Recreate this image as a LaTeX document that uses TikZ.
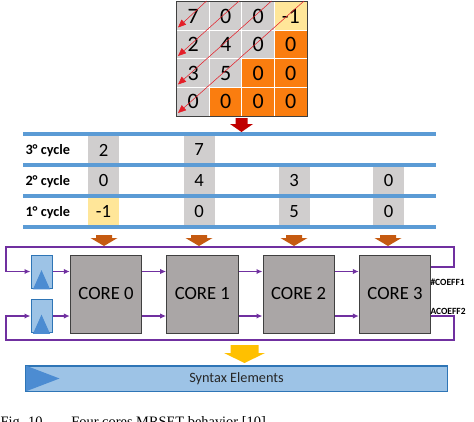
\documentclass[tikz,border=0pt]{standalone}
\usepackage{fontspec}
\setmainfont{Carlito}
\newfontfamily\capfont{Liberation Serif}
\usetikzlibrary{positioning,arrows.meta}

\definecolor{cellgray}{RGB}{208,206,206}
\definecolor{cellyellow}{RGB}{255,230,153}
\definecolor{cellorange}{RGB}{250,125,15}
\definecolor{diagred}{RGB}{228,30,40}
\definecolor{arrowred}{RGB}{192,0,0}
\definecolor{rulebl}{RGB}{91,155,213}
\definecolor{arroworange}{RGB}{197,90,17}
\definecolor{coregray}{RGB}{170,166,166}
\definecolor{coreedge}{RGB}{64,64,64}
\definecolor{purp}{RGB}{112,48,160}
\definecolor{reglight}{RGB}{157,195,230}
\definecolor{regedge}{RGB}{46,117,182}
\definecolor{regtri}{RGB}{76,140,210}
\definecolor{gold}{RGB}{255,192,0}

\tikzset{every picture/.style={line width=0.75pt}}

\begin{document}
\begin{tikzpicture}[x=0.75pt,y=0.75pt,yscale=-1,xscale=1,
  cell/.style={draw=white,line width=0.75pt,minimum width=24.4pt,minimum height=21.4pt,inner sep=0pt,font=\fontsize{16.5}{18}\selectfont},
  slot/.style={fill=cellgray,minimum width=23.25pt,minimum height=22pt,inner sep=0pt,font=\fontsize{14}{16}\selectfont},
  cyc/.style={anchor=west,inner sep=0pt,font=\bfseries\fontsize{10.7}{12}\selectfont},
  core/.style={draw=coreedge,fill=coregray,minimum width=53.5pt,minimum height=58.5pt,inner sep=0pt,font=\fontsize{14}{16}\selectfont},
  reg/.style={draw=regedge,fill=reglight,minimum width=15.75pt,minimum height=24.75pt,inner sep=0pt},
  coeff/.style={anchor=west,inner sep=0pt,font=\bfseries\fontsize{7.1}{8}\selectfont},
  diag/.style={color=diagred,line width=0.4pt,-{Triangle[length=6pt,width=5pt]}},
  rule/.style={color=rulebl,line width=2.6pt},
  pline/.style={color=purp,line width=1.1pt,-{Latex[length=4.5pt,width=4pt]}},
]
\useasboundingbox (0,0) rectangle (474,421);

% Matrix
\foreach \r/\c/\v/\f in {1/1/7/cellgray,1/2/0/cellgray,1/3/0/cellgray,1/4/-1/cellyellow,
  2/1/2/cellgray,2/2/4/cellgray,2/3/0/cellgray,2/4/0/cellorange,
  3/1/3/cellgray,3/2/5/cellgray,3/3/0/cellorange,3/4/0/cellorange,
  4/1/0/cellgray,4/2/0/cellorange,4/3/0/cellorange,4/4/0/cellorange}
  \node[cell,fill=\f] (m-\r-\c) at ({177+32.5*(\c-0.5)},{2+28.5*(\r-0.5)}) {\v};
\draw [coreedge] (m-1-1.north west) rectangle (m-4-4.south east);
% diagonal scan
\foreach \k in {1,2,3,4}
  \draw [diag] ({177+32.5*\k-3},1) -- (178,{2+28.5*\k-3});

% red arrow
\fill [arrowred] (235.5,118) -- (247.5,118) -- (247.5,124) -- (253,124) -- (241.5,132) -- (230,124) -- (235.5,124) -- cycle;

% Cycle table
\foreach \col/\x in {1/103.5,2/199,3/294,4/388.5} {
  \node[slot] (s2-\col) at (\x,180.5) {};
}
\node[slot] (s3-1) at (103.5,150) {2};
\node[slot] (s3-2) at (199,150) {7};
\node[slot,fill=cellyellow] (s1-1) at (103.5,211.5) {-1};
\node[slot] (s1-2) at (199,211.5) {0};
\node[slot] (s1-3) at (294,211.5) {5};
\node[slot] (s1-4) at (388.5,211.5) {0};
\node[font=\fontsize{14}{16}\selectfont] at (s2-1) {0};
\node[font=\fontsize{14}{16}\selectfont] at (s2-2) {4};
\node[font=\fontsize{14}{16}\selectfont] at (s2-3) {3};
\node[font=\fontsize{14}{16}\selectfont] at (s2-4) {0};
\foreach \y in {134,165,196,227}
  \draw [rule] (23,\y) -- (436,\y);
% Text Node
\node[cyc] (l3) at (25,151) {3° cycle};
\node[cyc] (l2) at (25,181.5) {2° cycle};
\node[cyc] (l1) at (25,212.5) {1° cycle};

% orange arrows
\foreach \cx in {104,199,294,388}
  \fill [arroworange] (\cx-8,235) -- (\cx+8,235) -- (\cx+8,238) -- (\cx+13.5,238) -- (\cx,246) -- (\cx-13.5,238) -- (\cx-8,238) -- cycle;

% Cores
\node[core] (core0) at (106,294) {CORE 0};
\node[core,right=18pt of core0] (core1) {CORE 1};
\node[core,right=18pt of core1] (core2) {CORE 2};
\node[core,right=18pt of core2] (core3) {CORE 3};

% Registers
\node[reg] (reg1) at (41.5,271.5) {};
\node[reg] (reg2) at (41.5,316) {};
\foreach \n in {reg1,reg2}
  \fill [regtri] ([xshift=-6.4pt,yshift=0.6pt]\n.south) -- ([yshift=-1pt]\n.center) -- ([xshift=6.4pt,yshift=0.6pt]\n.south) -- cycle;

% Connections
\draw [pline] (reg1) -- (reg1 -| core0.west);
\draw [pline] (reg2) -- (reg2 -| core0.west);
\foreach \a/\b in {core0/core1,core1/core2,core2/core3} {
  \draw [pline] (\a.east |- reg1) -- (\b.west |- reg1);
  \draw [pline] (\a.east |- reg2) -- (\b.west |- reg2);
}
\coordinate (topR) at (454,247);
\coordinate (topL) at (6,247);
\coordinate (botR) at (454,340);
\coordinate (botL) at (6,340);
\draw [pline] (core3.east |- 0,267) -| (topR) -- (topL) |- (reg1.west);
\draw [pline] (core3.east |- reg2) -| (botR) -- (botL) |- (reg2.west);
\node[coeff] (lab1) at (430,282) {\#COEFF1};
\node[coeff] (lab2) at (430,311) {ACOEFF2};

% gold arrow
\fill [gold] (230.5,345) -- (258.5,345) -- (258.5,353) -- (265,353) -- (244.5,363) -- (224,353) -- (230.5,353) -- cycle;

% Syntax elements
\node[draw=regedge,fill=reglight,minimum width=315.75pt,minimum height=18.75pt,inner sep=0pt,font=\fontsize{10.7}{12}\selectfont,text=black!85] (syn) at (236.5,378.5) {Syntax Elements};
\fill [regtri] (syn.north west) -- ([xshift=25.5pt]syn.west) -- (syn.south west) -- cycle;
\draw [regedge] (syn.north west) rectangle (syn.south east);

% caption
\node[anchor=base west,inner sep=0pt,font=\capfont\fontsize{10.8}{13}\selectfont] (cap) at (0,426.5) {Fig. 10.\hspace{19pt}Four cores MRSET behavior [10].};
\end{tikzpicture}
\end{document}
